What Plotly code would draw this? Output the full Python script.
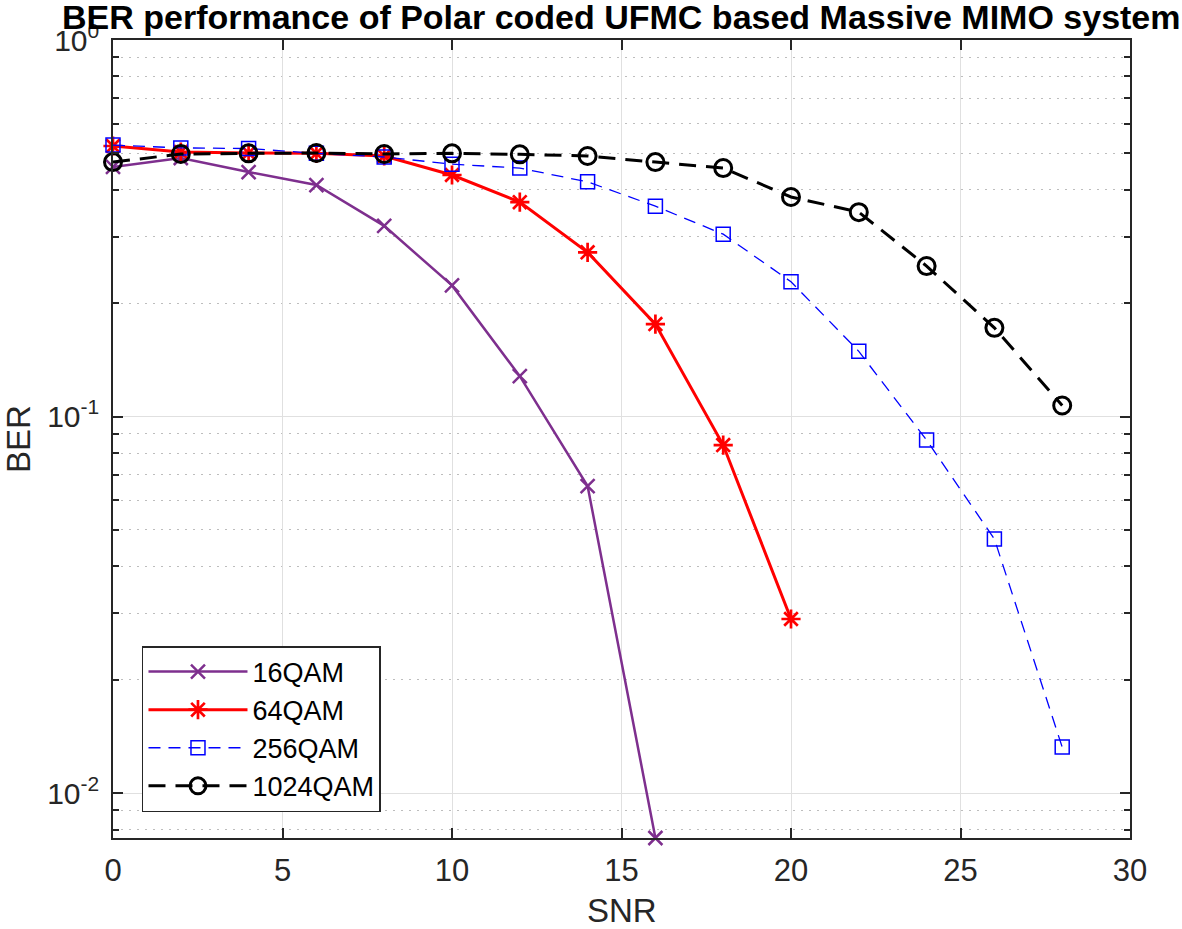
import plotly.graph_objects as go
import numpy as np

snr = [0, 2, 4, 6, 8, 10, 12, 14, 16, 18, 20, 22, 24, 26, 28]

# BER values
ber_16qam = [0.46, 0.486, 0.446, 0.412, 0.321, 0.223, 0.128, 0.0654, 0.0076]
ber_64qam = [0.523, 0.504, 0.501, 0.50, 0.492, 0.438, 0.371, 0.273, 0.176, 0.084, 0.029]
ber_256qam = [0.526, 0.517, 0.515, 0.50, 0.489, 0.468, 0.457, 0.42, 0.362, 0.305,
              0.228, 0.149, 0.0866, 0.0473, 0.01325]
ber_1024qam = [0.474, 0.498, 0.50, 0.501, 0.498, 0.50, 0.497, 0.492, 0.474, 0.457,
               0.383, 0.349, 0.251, 0.172, 0.107]

x_ticks = [0, 5, 10, 15, 20, 25, 30]
y_ticks = [0.01, 0.1, 1]
y_ticktext = ["10<sup>-2</sup>", "10<sup>-1</sup>", "10<sup>0</sup>"]

y_min = 0.0076
font_name = "Liberation Sans, Arial, sans-serif"
axis_col = "#262626"

fig = go.Figure()

fig.add_trace(go.Scatter(x=snr[:len(ber_16qam)], y=ber_16qam, name="16QAM",
                         mode="lines+markers", cliponaxis=False,
                         line=dict(color="#7E2F8E", width=2.5),
                         marker=dict(symbol="x-thin-open", size=14,
                                     line=dict(color="#7E2F8E", width=2.5))))
fig.add_trace(go.Scatter(x=snr[:len(ber_64qam)], y=ber_64qam, name="64QAM",
                         mode="lines+markers", cliponaxis=False,
                         line=dict(color="#FF0000", width=3),
                         marker=dict(symbol="asterisk-open", size=16,
                                     line=dict(color="#FF0000", width=2.7))))
fig.add_trace(go.Scatter(x=snr[:len(ber_256qam)], y=ber_256qam, name="256QAM",
                         mode="lines+markers", cliponaxis=False,
                         line=dict(color="#0000FF", width=1.3, dash="12px,8px"),
                         marker=dict(symbol="square-open", size=14,
                                     line=dict(color="#0000FF", width=1.5))))
fig.add_trace(go.Scatter(x=snr[:len(ber_1024qam)], y=ber_1024qam, name="1024QAM",
                         mode="lines+markers", cliponaxis=False,
                         line=dict(color="#000000", width=3, dash="17px,10px"),
                         marker=dict(symbol="circle-open", size=17,
                                     line=dict(color="#000000", width=3))))

minor_vals = [m * 10.0 ** e for e in (-3, -2, -1) for m in range(2, 10)]

fig.update_xaxes(range=[0, 30], tickvals=x_ticks,
                 ticks="inside", ticklen=10, tickcolor=axis_col, tickwidth=1.5,
                 showline=True, linecolor=axis_col, linewidth=1.5, mirror="ticks",
                 showgrid=True, gridcolor="#E0E0E0", gridwidth=1.2, zeroline=False,
                 ticklabelstandoff=4,
                 tickfont=dict(family=font_name, size=31, color=axis_col))
fig.update_yaxes(type="log", range=[np.log10(y_min), 0],
                 tickvals=y_ticks, ticktext=y_ticktext,
                 ticks="inside", ticklen=10, tickcolor=axis_col, tickwidth=1.5,
                 showline=True, linecolor=axis_col, linewidth=1.5, mirror="ticks",
                 showgrid=True, gridcolor="#E0E0E0", gridwidth=1.2, zeroline=False,
                 minor=dict(tickvals=minor_vals, ticks="inside", ticklen=6,
                            tickcolor=axis_col, showgrid=True, gridcolor="#BDBDBD",
                            griddash="2px,6px", gridwidth=1.3),
                 ticklabelstandoff=6,
                 tickfont=dict(family=font_name, size=30, color=axis_col))

fig.update_layout(
    width=1182, height=929,
    margin=dict(l=113, r=52, t=40, b=91, autoexpand=False),
    plot_bgcolor="white", paper_bgcolor="white",
    showlegend=True,
    legend=dict(x=0.0285, y=0.2406, xanchor="left", yanchor="top",
                bgcolor="white", bordercolor=axis_col, borderwidth=1.5,
                font=dict(family=font_name, size=27, color="#000000"),
                itemwidth=99),
    annotations=[
        dict(text="<b>BER performance of Polar coded UFMC based Massive MIMO system</b>",
             x=0.5, y=1, xref="paper", yref="paper", yanchor="middle",
             yshift=23, showarrow=False,
             font=dict(family=font_name, size=34, color="#000000")),
        dict(text="SNR", x=0.5, y=0, xref="paper", yref="paper",
             yanchor="middle", yshift=-72, showarrow=False,
             font=dict(family=font_name, size=33, color=axis_col)),
        dict(text="BER", x=0, y=0.5, xref="paper", yref="paper", textangle=-90,
             xanchor="center", xshift=-95, showarrow=False,
             font=dict(family=font_name, size=33, color=axis_col)),
    ],
)

fig.write_html("out.html", config={"displayModeBar": False},
               post_script="document.body.style.margin='0';")
